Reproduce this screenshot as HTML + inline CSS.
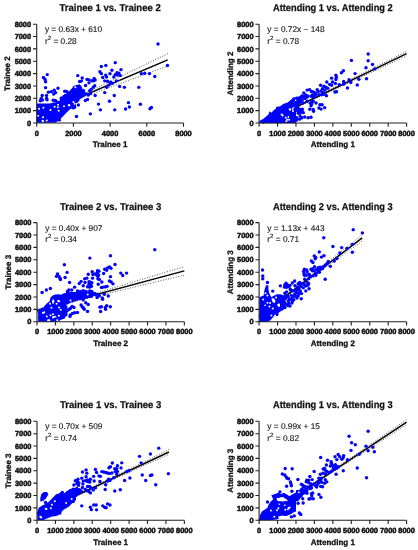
<!DOCTYPE html>
<html><head><meta charset="utf-8"><style>
html,body{margin:0;padding:0;background:#fff;}
svg{display:block;}
</style></head><body>
<svg width="418" height="550" viewBox="0 0 418 550" font-family='"Liberation Sans", Arial, sans-serif' fill="#111" text-rendering="geometricPrecision">
<rect width="418" height="550" fill="#fff"/>
<g><text x="110.1" y="11.3" font-size="10.0" font-weight="bold" stroke="#111" stroke-width="0.25" text-anchor="middle" textLength="101.4" lengthAdjust="spacingAndGlyphs">Trainee 1 vs. Trainee 2</text><text x="44.9" y="32.1" font-size="8.3" fill="#1a1a1a" stroke="#1a1a1a" stroke-width="0.15">y = 0.63x + 610</text><text x="44.9" y="43.8" font-size="8.3" fill="#1a1a1a" stroke="#1a1a1a" stroke-width="0.15">r<tspan font-size="6.14" dy="-4.2">2</tspan><tspan dy="4.2"> = 0.28</tspan></text><polyline points="36.7,112.94 39.98,111.71 43.25,110.48 46.53,109.23 49.8,107.98 53.08,106.71 56.35,105.42 59.63,104.12 62.9,102.8 66.18,101.45 69.45,100.08 72.73,98.68 76,97.25 79.28,95.8 82.55,94.33 85.83,92.84 89.1,91.33 92.38,89.81 95.65,88.28 98.93,86.75 102.2,85.2 105.48,83.65 108.75,82.09 112.03,80.53 115.3,78.96 118.58,77.4 121.85,75.83 125.13,74.26 128.4,72.68 131.68,71.11 134.95,69.53 138.23,67.95 141.5,66.38 144.78,64.8 148.05,63.22 151.33,61.63 154.6,60.05 157.88,58.47 161.15,56.89 164.43,55.31 167.7,53.72" fill="none" stroke="#333" stroke-width="0.9" stroke-dasharray="0.9 1.7"/><polyline points="36.7,117.99 39.98,116.44 43.25,114.9 46.53,113.37 49.8,111.85 53.08,110.34 56.35,108.85 59.63,107.37 62.9,105.92 66.18,104.48 69.45,103.08 72.73,101.7 76,100.35 79.28,99.02 82.55,97.72 85.83,96.43 89.1,95.16 92.38,93.91 95.65,92.66 98.93,91.42 102.2,90.19 105.48,88.96 108.75,87.74 112.03,86.53 115.3,85.31 118.58,84.1 121.85,82.9 125.13,81.69 128.4,80.49 131.68,79.29 134.95,78.08 138.23,76.88 141.5,75.69 144.78,74.49 148.05,73.29 151.33,72.09 154.6,70.9 157.88,69.7 161.15,68.51 164.43,67.32 167.7,66.12" fill="none" stroke="#333" stroke-width="0.9" stroke-dasharray="0.9 1.7"/><line x1="36.7" y1="115.47" x2="167.7" y2="59.92" stroke="#000" stroke-width="1.5"/><polygon points="36.96,106.01 41.74,104.57 47.48,105.05 52.27,102.66 58.01,101.7 61.84,99.79 64.71,98.35 67.58,95.48 71.41,92.13 76,88.78 76,106.49 72.36,107.92 69.49,109.84 66.62,112.42 63.75,115.58 60.88,118.45 58.01,121.32 55.14,122.85 36.96,122.85" fill="#0000ff"/><polygon points="66,93.64 68.87,91.49 71.74,88.61 73.9,85.74 76.77,85.03 79.64,84.31 81.08,85.74 82.51,88.61 82.51,90.77 84.66,92.2 86.82,92.2 87.54,94.36 84.66,96.51 81.79,97.95 79.64,99.38 78.92,101.54 76.77,102.97 74.61,103.69 73.18,105.84 70.31,107.28 67.44,108.72 66,109.43" fill="#0000ff"/><polygon points="36.72,103.55 59.69,103.55 59.69,97.23 66.01,97.23 66.01,107.28 57.54,110.01 36.72,110.01" fill="#0000ff"/><g fill="#fff"><circle cx="74.69" cy="103.8" r="1.0"/><circle cx="38.16" cy="115.66" r="1.0"/><circle cx="50.47" cy="110.02" r="1.0"/><circle cx="58.08" cy="104.66" r="1.0"/><circle cx="58.68" cy="110.75" r="1.0"/><circle cx="46.68" cy="120.59" r="1.0"/><circle cx="54.66" cy="106.85" r="1.0"/><circle cx="39.07" cy="108.8" r="1.0"/><circle cx="43.36" cy="107.77" r="1.0"/><circle cx="42.59" cy="120.72" r="1.0"/><circle cx="42.99" cy="121.31" r="1.0"/><circle cx="42.99" cy="117.19" r="1.0"/><circle cx="68.83" cy="105" r="1.0"/><circle cx="75.39" cy="87.31" r="1.0"/><circle cx="73.44" cy="101.96" r="1.0"/><circle cx="69.33" cy="105.42" r="1.0"/><circle cx="57.81" cy="107.37" r="1.0"/><circle cx="64.04" cy="106.17" r="1.0"/></g><g fill="#0000ff"><circle cx="45.57" cy="87.64" r="1.7"/><circle cx="58.01" cy="88.31" r="1.7"/><circle cx="54.18" cy="90.22" r="1.7"/><circle cx="48.44" cy="92.13" r="1.7"/><circle cx="51.31" cy="91.66" r="1.7"/><circle cx="55.62" cy="92.61" r="1.7"/><circle cx="53.7" cy="94.05" r="1.7"/><circle cx="42.22" cy="95.48" r="1.7"/><circle cx="41.26" cy="98.35" r="1.7"/><circle cx="40.31" cy="100.75" r="1.7"/><circle cx="46.53" cy="95.48" r="1.7"/><circle cx="46.53" cy="98.35" r="1.7"/><circle cx="47" cy="99.79" r="1.7"/><circle cx="53.22" cy="100.27" r="1.7"/><circle cx="59.44" cy="119.89" r="1.7"/><circle cx="73.32" cy="107.92" r="1.7"/><circle cx="64.71" cy="91.18" r="1.7"/><circle cx="85.57" cy="85.44" r="1.7"/><circle cx="104.71" cy="92.61" r="1.7"/><circle cx="106.62" cy="87.35" r="1.7"/><circle cx="109.01" cy="84.96" r="1.7"/><circle cx="114.28" cy="95.48" r="1.7"/><circle cx="95.14" cy="95.48" r="1.7"/><circle cx="109.49" cy="101.22" r="1.7"/><circle cx="98.49" cy="104.1" r="1.7"/><circle cx="100.4" cy="109.84" r="1.7"/><circle cx="90.35" cy="113.86" r="1.7"/><circle cx="76.48" cy="116.54" r="1.7"/><circle cx="114.76" cy="109.84" r="1.7"/><circle cx="78.39" cy="105.05" r="1.7"/><circle cx="79.64" cy="81.44" r="1.7"/><circle cx="81.43" cy="81.08" r="1.7"/><circle cx="88.97" cy="82.87" r="1.7"/><circle cx="91.84" cy="80.72" r="1.7"/><circle cx="66.72" cy="91.49" r="1.7"/><circle cx="83.59" cy="90.77" r="1.7"/><circle cx="91.13" cy="89.33" r="1.7"/><circle cx="93.28" cy="87.18" r="1.7"/><circle cx="94.72" cy="85.74" r="1.7"/><circle cx="89.69" cy="90.77" r="1.7"/><circle cx="90.41" cy="93.64" r="1.7"/><circle cx="88.25" cy="95.08" r="1.7"/><circle cx="85.38" cy="100.46" r="1.7"/><circle cx="87.54" cy="99.38" r="1.7"/><circle cx="74.61" cy="107.28" r="1.7"/><circle cx="119.64" cy="86.39" r="1.7"/><circle cx="124.42" cy="87.35" r="1.7"/><circle cx="138.78" cy="87.35" r="1.7"/><circle cx="128.44" cy="102.66" r="1.7"/><circle cx="129.4" cy="106.97" r="1.7"/><circle cx="125.57" cy="109.07" r="1.7"/><circle cx="140.4" cy="104.29" r="1.7"/><circle cx="149.97" cy="108.69" r="1.7"/><circle cx="151.41" cy="107.44" r="1.7"/><circle cx="158" cy="44" r="1.7"/><circle cx="167.45" cy="65.53" r="1.7"/><circle cx="47.29" cy="74.62" r="1.7"/><circle cx="43.46" cy="77.49" r="1.7"/><circle cx="45.09" cy="79.41" r="1.7"/><circle cx="45.57" cy="81.8" r="1.7"/><circle cx="77.72" cy="75.58" r="1.7"/><circle cx="82.22" cy="77.97" r="1.7"/><circle cx="87" cy="79.41" r="1.7"/><circle cx="88.92" cy="79.89" r="1.7"/><circle cx="94.18" cy="78.45" r="1.7"/><circle cx="95.14" cy="79.89" r="1.7"/><circle cx="93.7" cy="80.84" r="1.7"/><circle cx="101.36" cy="66.49" r="1.7"/><circle cx="105.86" cy="65.53" r="1.7"/><circle cx="99.92" cy="71.75" r="1.7"/><circle cx="101.36" cy="73.67" r="1.7"/><circle cx="111.89" cy="70.32" r="1.7"/><circle cx="109.97" cy="73.67" r="1.7"/><circle cx="105.67" cy="75.1" r="1.7"/><circle cx="106.62" cy="77.01" r="1.7"/><circle cx="102.79" cy="77.49" r="1.7"/><circle cx="104.71" cy="80.84" r="1.7"/><circle cx="107.58" cy="81.32" r="1.7"/><circle cx="110.45" cy="82.28" r="1.7"/><circle cx="115.23" cy="62.66" r="1.7"/><circle cx="115.23" cy="74.62" r="1.7"/><circle cx="113.8" cy="77.01" r="1.7"/><circle cx="112.36" cy="83.23" r="1.7"/><circle cx="42.46" cy="100.1" r="1.7"/><circle cx="61.48" cy="97.95" r="1.7"/><circle cx="64" cy="96.51" r="1.7"/><circle cx="65.43" cy="95.43" r="1.7"/><circle cx="55.38" cy="100.46" r="1.7"/><circle cx="57.54" cy="102.25" r="1.7"/><circle cx="120.98" cy="69.65" r="1.7"/><circle cx="116.96" cy="72.71" r="1.7"/><circle cx="118.87" cy="73.19" r="1.7"/><circle cx="117.44" cy="75.1" r="1.7"/><circle cx="120.31" cy="75.58" r="1.7"/><circle cx="116.48" cy="80.84" r="1.7"/><circle cx="141.36" cy="73.67" r="1.7"/><circle cx="144.71" cy="73.19" r="1.7"/><circle cx="149.49" cy="73.67" r="1.7"/><circle cx="154.76" cy="76.54" r="1.7"/></g><path d="M36.7 24.2V123H183.5M33 123H36.7M33 110.65H36.7M33 98.3H36.7M33 85.95H36.7M33 73.6H36.7M33 61.25H36.7M33 48.9H36.7M33 36.55H36.7M33 24.2H36.7M36.7 123V126.7M73.4 123V126.7M110.1 123V126.7M146.8 123V126.7M183.5 123V126.7" fill="none" stroke="#222" stroke-width="1.1"/><g font-size="7.4" font-weight="bold" fill="#111" stroke="#111" stroke-width="0.5"><text x="31.1" y="125.66" text-anchor="end">0</text><text x="31.1" y="113.31" text-anchor="end">1000</text><text x="31.1" y="100.96" text-anchor="end">2000</text><text x="31.1" y="88.61" text-anchor="end">3000</text><text x="31.1" y="76.26" text-anchor="end">4000</text><text x="31.1" y="63.91" text-anchor="end">5000</text><text x="31.1" y="51.56" text-anchor="end">6000</text><text x="31.1" y="39.21" text-anchor="end">7000</text><text x="31.1" y="26.86" text-anchor="end">8000</text><text x="36.7" y="135.6" text-anchor="middle">0</text><text x="73.4" y="135.6" text-anchor="middle">2000</text><text x="110.1" y="135.6" text-anchor="middle">4000</text><text x="146.8" y="135.6" text-anchor="middle">6000</text><text x="183.5" y="135.6" text-anchor="middle">8000</text></g><text x="110.1" y="147.4" font-size="8.0" font-weight="bold" stroke="#111" stroke-width="0.3" text-anchor="middle">Trainee 1</text><text transform="translate(10.3 73.6) rotate(-90)" x="0" y="0" font-size="8.0" font-weight="bold" stroke="#111" stroke-width="0.3" text-anchor="middle">Trainee 2</text></g><g><text x="332.85" y="11.3" font-size="10.0" font-weight="bold" stroke="#111" stroke-width="0.25" text-anchor="middle" textLength="119.8" lengthAdjust="spacingAndGlyphs">Attending 1 vs. Attending 2</text><text x="267.3" y="32.1" font-size="8.3" fill="#1a1a1a" stroke="#1a1a1a" stroke-width="0.15">y = 0.72x − 148</text><text x="267.3" y="43.8" font-size="8.3" fill="#1a1a1a" stroke="#1a1a1a" stroke-width="0.15">r<tspan font-size="6.14" dy="-4.2">2</tspan><tspan dy="4.2"> = 0.78</tspan></text><polyline points="262.88,122.14 266.47,120.43 270.07,118.71 273.66,116.99 277.25,115.27 280.84,113.54 284.44,111.81 288.03,110.07 291.62,108.33 295.22,106.58 298.81,104.84 302.4,103.08 306,101.33 309.59,99.57 313.18,97.8 316.77,96.04 320.37,94.27 323.96,92.5 327.55,90.73 331.15,88.95 334.74,87.18 338.33,85.4 341.93,83.62 345.52,81.84 349.11,80.06 352.7,78.28 356.3,76.5 359.89,74.71 363.48,72.93 367.08,71.15 370.67,69.36 374.26,67.58 377.86,65.79 381.45,64 385.04,62.22 388.63,60.43 392.23,58.64 395.82,56.86 399.41,55.07 403.01,53.28 406.6,51.49" fill="none" stroke="#333" stroke-width="0.9" stroke-dasharray="0.9 1.7"/><polyline points="262.88,123.87 266.47,122.12 270.07,120.37 273.66,118.62 277.25,116.88 280.84,115.14 284.44,113.41 288.03,111.68 291.62,109.95 295.22,108.23 298.81,106.52 302.4,104.81 306,103.1 309.59,101.39 313.18,99.69 316.77,97.99 320.37,96.29 323.96,94.6 327.55,92.9 331.15,91.21 334.74,89.52 338.33,87.83 341.93,86.15 345.52,84.46 349.11,82.77 352.7,81.09 356.3,79.41 359.89,77.72 363.48,76.04 367.08,74.36 370.67,72.68 374.26,71 377.86,69.32 381.45,67.64 385.04,65.96 388.63,64.28 392.23,62.6 395.82,60.92 399.41,59.25 403.01,57.57 406.6,55.89" fill="none" stroke="#333" stroke-width="0.9" stroke-dasharray="0.9 1.7"/><line x1="262.88" y1="123" x2="406.6" y2="53.69" stroke="#000" stroke-width="1.5"/><polygon points="259.35,121.8 260.78,119.89 263.18,118.93 265.57,117.01 268.44,114.62 269.4,111.27 271.31,112.71 274.18,109.84 277.05,107.92 280.88,106.49 283.75,104.57 286.62,103.62 289.01,102.66 290.45,100.27 292.84,98.83 296,97.88 296,123.23 259.35,123.23" fill="#0000ff"/><polygon points="276,106.92 280.31,106.2 283.18,104.05 287.49,102.61 290.36,100.46 293.23,98.31 297.54,96.87 301.84,95.44 306.01,94 306.01,98.31 303.28,101.18 299.69,104.05 297.54,108.36 296.82,111.23 294.66,111.95 292.51,113.38 290.36,115.54 290.36,118.41 294.66,117.69 296.82,116.25 298.97,119.13 297.54,121.28 294.66,122.93 276,122.93" fill="#0000ff"/><g fill="#fff"><circle cx="292.65" cy="108.65" r="1.0"/><circle cx="290.2" cy="109.79" r="1.0"/><circle cx="285.76" cy="117.77" r="1.0"/><circle cx="289.71" cy="109.13" r="1.0"/><circle cx="281.67" cy="114.55" r="1.0"/><circle cx="287.27" cy="119.67" r="1.0"/><circle cx="288.46" cy="117.1" r="1.0"/><circle cx="282.71" cy="115.48" r="1.0"/><circle cx="293.42" cy="101.75" r="1.0"/><circle cx="293.01" cy="111.07" r="1.0"/><circle cx="293.74" cy="117.59" r="1.0"/><circle cx="295.58" cy="100.04" r="1.0"/><circle cx="294.33" cy="107.38" r="1.0"/><circle cx="289.14" cy="119.75" r="1.0"/><circle cx="302.24" cy="99.42" r="1.0"/><circle cx="286.33" cy="121.3" r="1.0"/><circle cx="291.11" cy="101.84" r="1.0"/></g><g fill="#0000ff"><circle cx="299.69" cy="111.23" r="1.7"/><circle cx="301.84" cy="110.51" r="1.7"/><circle cx="303.28" cy="112.66" r="1.7"/><circle cx="300.41" cy="113.02" r="1.7"/><circle cx="304.72" cy="116.97" r="1.7"/><circle cx="301.84" cy="117.69" r="1.7"/><circle cx="299.69" cy="119.13" r="1.7"/><circle cx="297.76" cy="107.48" r="1.7"/><circle cx="299.48" cy="109.2" r="1.7"/><circle cx="297.76" cy="110.93" r="1.7"/><circle cx="298.33" cy="113.22" r="1.7"/><circle cx="302.35" cy="109.2" r="1.7"/><circle cx="300.06" cy="116.09" r="1.7"/><circle cx="296.61" cy="117.81" r="1.7"/><circle cx="293.74" cy="117.24" r="1.7"/><circle cx="290.87" cy="116.67" r="1.7"/><circle cx="308.09" cy="117.81" r="1.7"/><circle cx="310.96" cy="117.24" r="1.7"/><circle cx="309.81" cy="109.2" r="1.7"/><circle cx="295.46" cy="108.63" r="1.7"/><circle cx="296.04" cy="106.33" r="1.7"/><circle cx="297.18" cy="104.04" r="1.7"/><circle cx="301.2" cy="99.44" r="1.7"/><circle cx="305.22" cy="98.3" r="1.7"/><circle cx="306.94" cy="97.15" r="1.7"/><circle cx="296.61" cy="98.3" r="1.7"/><circle cx="293.74" cy="98.87" r="1.7"/><circle cx="291.44" cy="101.74" r="1.7"/><circle cx="293.17" cy="101.17" r="1.7"/><circle cx="299.48" cy="102.31" r="1.7"/><circle cx="302.93" cy="102.89" r="1.7"/><circle cx="307.08" cy="101.18" r="1.7"/><circle cx="311.03" cy="96.15" r="1.7"/><circle cx="312.46" cy="96.87" r="1.7"/><circle cx="313.9" cy="95.44" r="1.7"/><circle cx="316.05" cy="94.36" r="1.7"/><circle cx="318.92" cy="94.72" r="1.7"/><circle cx="321.43" cy="94.72" r="1.7"/><circle cx="323.95" cy="94.36" r="1.7"/><circle cx="326.46" cy="95.79" r="1.7"/><circle cx="311.74" cy="101.9" r="1.7"/><circle cx="313.18" cy="101.18" r="1.7"/><circle cx="310.31" cy="103.33" r="1.7"/><circle cx="311.74" cy="104.05" r="1.7"/><circle cx="311.03" cy="105.84" r="1.7"/><circle cx="316.05" cy="102.97" r="1.7"/><circle cx="320" cy="104.77" r="1.7"/><circle cx="322.15" cy="104.77" r="1.7"/><circle cx="318.92" cy="108" r="1.7"/><circle cx="321.08" cy="109.08" r="1.7"/><circle cx="324.66" cy="107.64" r="1.7"/><circle cx="313.18" cy="109.43" r="1.7"/><circle cx="313.54" cy="111.23" r="1.7"/><circle cx="335.89" cy="75.26" r="1.7"/><circle cx="336.36" cy="77.18" r="1.7"/><circle cx="331.58" cy="78.13" r="1.7"/><circle cx="335.89" cy="79.57" r="1.7"/><circle cx="326.79" cy="81.96" r="1.7"/><circle cx="332.54" cy="81.96" r="1.7"/><circle cx="335.41" cy="83.4" r="1.7"/><circle cx="329.67" cy="84.35" r="1.7"/><circle cx="331.58" cy="85.31" r="1.7"/><circle cx="320.57" cy="85.31" r="1.7"/><circle cx="323.92" cy="86.27" r="1.7"/><circle cx="325.84" cy="87.22" r="1.7"/><circle cx="327.75" cy="88.18" r="1.7"/><circle cx="322.49" cy="88.66" r="1.7"/><circle cx="324.88" cy="90.1" r="1.7"/><circle cx="317.22" cy="89.62" r="1.7"/><circle cx="318.18" cy="91.53" r="1.7"/><circle cx="321.05" cy="91.05" r="1.7"/><circle cx="322.97" cy="92.49" r="1.7"/><circle cx="307.18" cy="90.1" r="1.7"/><circle cx="309.57" cy="89.62" r="1.7"/><circle cx="311.48" cy="91.53" r="1.7"/><circle cx="313.4" cy="92.01" r="1.7"/><circle cx="315.31" cy="92.97" r="1.7"/><circle cx="312.44" cy="94.88" r="1.7"/><circle cx="303.83" cy="92.97" r="1.7"/><circle cx="301.91" cy="95.84" r="1.7"/><circle cx="305.74" cy="94.88" r="1.7"/><circle cx="307.66" cy="95.84" r="1.7"/><circle cx="334.93" cy="92.01" r="1.7"/><circle cx="314.35" cy="96.79" r="1.7"/><circle cx="336.54" cy="91.79" r="1.7"/><circle cx="339.27" cy="84.71" r="1.7"/><circle cx="341.45" cy="72.72" r="1.7"/><circle cx="343.41" cy="70.76" r="1.7"/><circle cx="343.63" cy="81.44" r="1.7"/><circle cx="343.63" cy="84.16" r="1.7"/><circle cx="347.44" cy="87.98" r="1.7"/><circle cx="349.08" cy="79.8" r="1.7"/><circle cx="350.71" cy="82.53" r="1.7"/><circle cx="355.07" cy="73.59" r="1.7"/><circle cx="358.89" cy="79.26" r="1.7"/><circle cx="357.25" cy="84.93" r="1.7"/><circle cx="365.97" cy="67.81" r="1.7"/><circle cx="366.52" cy="78.71" r="1.7"/><circle cx="372.51" cy="64.54" r="1.7"/><circle cx="374.69" cy="68.9" r="1.7"/><circle cx="351.41" cy="60.42" r="1.7"/><circle cx="368.16" cy="54.05" r="1.7"/><circle cx="368.16" cy="60.75" r="1.7"/></g><path d="M259.1 24.2V123H406.6M255.4 123H259.1M255.4 110.65H259.1M255.4 98.3H259.1M255.4 85.95H259.1M255.4 73.6H259.1M255.4 61.25H259.1M255.4 48.9H259.1M255.4 36.55H259.1M255.4 24.2H259.1M259.1 123V126.7M277.54 123V126.7M295.98 123V126.7M314.41 123V126.7M332.85 123V126.7M351.29 123V126.7M369.73 123V126.7M388.16 123V126.7M406.6 123V126.7" fill="none" stroke="#222" stroke-width="1.1"/><g font-size="7.4" font-weight="bold" fill="#111" stroke="#111" stroke-width="0.5"><text x="253.5" y="125.66" text-anchor="end">0</text><text x="253.5" y="113.31" text-anchor="end">1000</text><text x="253.5" y="100.96" text-anchor="end">2000</text><text x="253.5" y="88.61" text-anchor="end">3000</text><text x="253.5" y="76.26" text-anchor="end">4000</text><text x="253.5" y="63.91" text-anchor="end">5000</text><text x="253.5" y="51.56" text-anchor="end">6000</text><text x="253.5" y="39.21" text-anchor="end">7000</text><text x="253.5" y="26.86" text-anchor="end">8000</text><text x="259.1" y="135.6" text-anchor="middle">0</text><text x="277.54" y="135.6" text-anchor="middle">1000</text><text x="295.98" y="135.6" text-anchor="middle">2000</text><text x="314.41" y="135.6" text-anchor="middle">3000</text><text x="332.85" y="135.6" text-anchor="middle">4000</text><text x="351.29" y="135.6" text-anchor="middle">5000</text><text x="369.73" y="135.6" text-anchor="middle">6000</text><text x="388.16" y="135.6" text-anchor="middle">7000</text><text x="406.6" y="135.6" text-anchor="middle">8000</text></g><text x="332.85" y="147.4" font-size="8.0" font-weight="bold" stroke="#111" stroke-width="0.3" text-anchor="middle">Attending 1</text><text transform="translate(232.7 73.6) rotate(-90)" x="0" y="0" font-size="8.0" font-weight="bold" stroke="#111" stroke-width="0.3" text-anchor="middle">Attending 2</text></g><g><text x="110.67" y="209.8" font-size="10.0" font-weight="bold" stroke="#111" stroke-width="0.25" text-anchor="middle" textLength="101.4" lengthAdjust="spacingAndGlyphs">Trainee 2 vs. Trainee 3</text><text x="45.2" y="230.6" font-size="8.3" fill="#1a1a1a" stroke="#1a1a1a" stroke-width="0.15">y = 0.40x + 907</text><text x="45.2" y="242.3" font-size="8.3" fill="#1a1a1a" stroke="#1a1a1a" stroke-width="0.15">r<tspan font-size="6.14" dy="-4.2">2</tspan><tspan dy="4.2"> = 0.34</tspan></text><polyline points="37,309.02 40.68,308.1 44.37,307.18 48.05,306.25 51.73,305.31 55.42,304.35 59.1,303.39 62.79,302.41 66.47,301.42 70.15,300.41 73.84,299.39 77.52,298.36 81.2,297.32 84.89,296.27 88.57,295.21 92.26,294.14 95.94,293.07 99.62,291.99 103.31,290.9 106.99,289.81 110.67,288.72 114.36,287.63 118.04,286.53 121.73,285.43 125.41,284.33 129.09,283.23 132.78,282.12 136.46,281.02 140.14,279.91 143.83,278.8 147.51,277.69 151.2,276.58 154.88,275.47 158.56,274.36 162.25,273.25 165.93,272.14 169.61,271.03 173.3,269.91 176.98,268.8 180.67,267.69 184.35,266.57" fill="none" stroke="#333" stroke-width="0.9" stroke-dasharray="0.9 1.7"/><polyline points="37,312.09 40.68,311.02 44.37,309.96 48.05,308.91 51.73,307.86 55.42,306.83 59.1,305.82 62.79,304.81 66.47,303.82 70.15,302.84 73.84,301.87 77.52,300.92 81.2,299.98 84.89,299.05 88.57,298.12 92.26,297.21 95.94,296.3 99.62,295.39 103.31,294.49 106.99,293.6 110.67,292.7 114.36,291.81 118.04,290.93 121.73,290.04 125.41,289.16 129.09,288.28 132.78,287.4 136.46,286.52 140.14,285.64 143.83,284.77 147.51,283.89 151.2,283.02 154.88,282.15 158.56,281.27 162.25,280.4 165.93,279.53 169.61,278.66 173.3,277.78 176.98,276.91 180.67,276.04 184.35,275.17" fill="none" stroke="#333" stroke-width="0.9" stroke-dasharray="0.9 1.7"/><line x1="37" y1="310.55" x2="184.35" y2="270.87" stroke="#000" stroke-width="1.5"/><polygon points="38.15,321.86 38.15,309.95 40.31,308.87 43.18,307.79 44.61,305.64 46.77,303.49 49.64,301.33 50.36,297.74 52.51,295.59 55.38,294.51 58.25,294.15 61.13,294.87 63.28,293.44 66.01,292.72 66.01,315.69 64.72,318.56 61.13,319.64 57.54,321.86" fill="#0000ff"/><polygon points="66,292 96.01,292 96.01,294.87 91.84,297.03 87.54,298.46 83.95,299.18 80.36,299.9 76.77,300.61 73.18,302.05 70.31,302.77 68.15,304.2 66,304.92" fill="#0000ff"/><polygon points="66,304.92 67.44,306.36 67.44,315.69 66,316.41" fill="#0000ff"/><g fill="#fff"><circle cx="53.01" cy="314.29" r="1.0"/><circle cx="51.44" cy="307.76" r="1.0"/><circle cx="53.06" cy="317.55" r="1.0"/><circle cx="60.72" cy="309.75" r="1.0"/><circle cx="50.52" cy="315.23" r="1.0"/><circle cx="42.94" cy="313.04" r="1.0"/><circle cx="58.82" cy="315.67" r="1.0"/><circle cx="44.17" cy="312.37" r="1.0"/><circle cx="59.04" cy="307.47" r="1.0"/><circle cx="58.48" cy="300.99" r="1.0"/><circle cx="56.59" cy="303.72" r="1.0"/><circle cx="46.81" cy="316.58" r="1.0"/><circle cx="57.23" cy="320.26" r="1.0"/><circle cx="50.09" cy="303.63" r="1.0"/><circle cx="87.68" cy="294.47" r="1.0"/><circle cx="70.54" cy="300.57" r="1.0"/></g><polygon points="52.15,299.9 53.59,299.18 54.31,301.33 53.59,303.84 52.37,303.49" fill="#fff"/><polygon points="56.82,300.61 58.97,299.9 60.41,301.33 58.61,302.41" fill="#fff"/><polygon points="46.77,319.64 49.64,318.92 50.36,321.07 47.49,321.43" fill="#fff"/><polygon points="52.15,316.41 55.38,315.69 56.82,317.13 53.23,317.84" fill="#fff"/><g fill="#0000ff"><circle cx="42.1" cy="292.57" r="1.7"/><circle cx="83.23" cy="299.9" r="1.7"/><circle cx="85.74" cy="302.77" r="1.7"/><circle cx="88.25" cy="304.56" r="1.7"/><circle cx="81.08" cy="304.92" r="1.7"/><circle cx="82.15" cy="306.72" r="1.7"/><circle cx="83.23" cy="307.79" r="1.7"/><circle cx="84.31" cy="309.23" r="1.7"/><circle cx="87.54" cy="311.38" r="1.7"/><circle cx="72.1" cy="306.36" r="1.7"/><circle cx="73.9" cy="307.43" r="1.7"/><circle cx="70.31" cy="308.51" r="1.7"/><circle cx="68.87" cy="309.59" r="1.7"/><circle cx="67.08" cy="310.66" r="1.7"/><circle cx="70.31" cy="314.97" r="1.7"/><circle cx="72.46" cy="313.54" r="1.7"/><circle cx="74.61" cy="312.82" r="1.7"/><circle cx="77.49" cy="312.46" r="1.7"/><circle cx="69.95" cy="316.41" r="1.7"/><circle cx="64.36" cy="264.73" r="1.7"/><circle cx="57.54" cy="273.84" r="1.7"/><circle cx="56.46" cy="276.36" r="1.7"/><circle cx="58.97" cy="276.36" r="1.7"/><circle cx="60.05" cy="278.15" r="1.7"/><circle cx="60.41" cy="279.59" r="1.7"/><circle cx="65.07" cy="277.43" r="1.7"/><circle cx="50.36" cy="288.56" r="1.7"/><circle cx="46.41" cy="290" r="1.7"/><circle cx="67.08" cy="272.41" r="1.7"/><circle cx="69.59" cy="282.46" r="1.7"/><circle cx="74.61" cy="287.13" r="1.7"/><circle cx="92.2" cy="271.69" r="1.7"/><circle cx="92.92" cy="274.56" r="1.7"/><circle cx="94.72" cy="273.84" r="1.7"/><circle cx="88.25" cy="274.2" r="1.7"/><circle cx="92.56" cy="278.15" r="1.7"/><circle cx="84.66" cy="278.87" r="1.7"/><circle cx="86.82" cy="278.15" r="1.7"/><circle cx="81.08" cy="281.38" r="1.7"/><circle cx="79.28" cy="283.54" r="1.7"/><circle cx="85.02" cy="282.46" r="1.7"/><circle cx="83.23" cy="285.69" r="1.7"/><circle cx="88.97" cy="281.74" r="1.7"/><circle cx="90.41" cy="282.1" r="1.7"/><circle cx="91.84" cy="282.82" r="1.7"/><circle cx="88.97" cy="284.25" r="1.7"/><circle cx="90.77" cy="284.97" r="1.7"/><circle cx="87.54" cy="286.77" r="1.7"/><circle cx="89.69" cy="287.13" r="1.7"/><circle cx="68.87" cy="290" r="1.7"/><circle cx="71.74" cy="290" r="1.7"/><circle cx="67.44" cy="291.43" r="1.7"/><circle cx="77.49" cy="291.07" r="1.7"/><circle cx="80.36" cy="291.43" r="1.7"/><circle cx="83.23" cy="290.72" r="1.7"/><circle cx="86.1" cy="291.43" r="1.7"/><circle cx="89.69" cy="291.07" r="1.7"/><circle cx="91.84" cy="291.43" r="1.7"/><circle cx="97.18" cy="272.72" r="1.7"/><circle cx="98.61" cy="274.87" r="1.7"/><circle cx="103.64" cy="273.44" r="1.7"/><circle cx="97.9" cy="276.31" r="1.7"/><circle cx="97.9" cy="278.82" r="1.7"/><circle cx="99.33" cy="279.54" r="1.7"/><circle cx="110.46" cy="276.67" r="1.7"/><circle cx="109.38" cy="280.97" r="1.7"/><circle cx="111.18" cy="282.05" r="1.7"/><circle cx="112.97" cy="283.84" r="1.7"/><circle cx="101.84" cy="282.05" r="1.7"/><circle cx="91.44" cy="286.36" r="1.7"/><circle cx="98.26" cy="284.2" r="1.7"/><circle cx="101.49" cy="287.43" r="1.7"/><circle cx="103.64" cy="287.08" r="1.7"/><circle cx="105.79" cy="286.72" r="1.7"/><circle cx="107.23" cy="286.36" r="1.7"/><circle cx="91.44" cy="293.54" r="1.7"/><circle cx="92.87" cy="293.9" r="1.7"/><circle cx="95.74" cy="294.25" r="1.7"/><circle cx="97.9" cy="294.97" r="1.7"/><circle cx="99.33" cy="295.69" r="1.7"/><circle cx="104.36" cy="294.25" r="1.7"/><circle cx="97.18" cy="297.48" r="1.7"/><circle cx="102.2" cy="297.84" r="1.7"/><circle cx="102.56" cy="299.28" r="1.7"/><circle cx="108.31" cy="296.05" r="1.7"/><circle cx="91.08" cy="296.41" r="1.7"/><circle cx="99.9" cy="307.13" r="1.7"/><circle cx="101.33" cy="306.77" r="1.7"/><circle cx="100.61" cy="311.43" r="1.7"/><circle cx="105.28" cy="307.49" r="1.7"/><circle cx="106.72" cy="305.69" r="1.7"/><circle cx="105.64" cy="309.28" r="1.7"/><circle cx="110.31" cy="306.77" r="1.7"/><circle cx="89.88" cy="258.08" r="1.7"/><circle cx="110.45" cy="255.68" r="1.7"/><circle cx="115.04" cy="264.49" r="1.7"/><circle cx="104.71" cy="269.27" r="1.7"/><circle cx="107.58" cy="267.84" r="1.7"/><circle cx="109.49" cy="266.88" r="1.7"/><circle cx="110.93" cy="268.32" r="1.7"/><circle cx="106.62" cy="270.23" r="1.7"/><circle cx="97.53" cy="270.71" r="1.7"/><circle cx="98.97" cy="271.19" r="1.7"/><circle cx="96.57" cy="275.01" r="1.7"/><circle cx="154.76" cy="249.66" r="1.7"/><circle cx="120.78" cy="273.1" r="1.7"/><circle cx="122.7" cy="275.49" r="1.7"/><circle cx="126.53" cy="273.1" r="1.7"/></g><path d="M37 222.6V321.8H184.35M33.3 321.8H37M33.3 309.4H37M33.3 297H37M33.3 284.6H37M33.3 272.2H37M33.3 259.8H37M33.3 247.4H37M33.3 235H37M33.3 222.6H37M37 321.8V325.5M55.42 321.8V325.5M73.84 321.8V325.5M92.26 321.8V325.5M110.67 321.8V325.5M129.09 321.8V325.5M147.51 321.8V325.5M165.93 321.8V325.5M184.35 321.8V325.5" fill="none" stroke="#222" stroke-width="1.1"/><g font-size="7.4" font-weight="bold" fill="#111" stroke="#111" stroke-width="0.5"><text x="31.4" y="324.46" text-anchor="end">0</text><text x="31.4" y="312.06" text-anchor="end">1000</text><text x="31.4" y="299.66" text-anchor="end">2000</text><text x="31.4" y="287.26" text-anchor="end">3000</text><text x="31.4" y="274.86" text-anchor="end">4000</text><text x="31.4" y="262.46" text-anchor="end">5000</text><text x="31.4" y="250.06" text-anchor="end">6000</text><text x="31.4" y="237.66" text-anchor="end">7000</text><text x="31.4" y="225.26" text-anchor="end">8000</text><text x="37" y="334.4" text-anchor="middle">0</text><text x="55.42" y="334.4" text-anchor="middle">1000</text><text x="73.84" y="334.4" text-anchor="middle">2000</text><text x="92.26" y="334.4" text-anchor="middle">3000</text><text x="110.67" y="334.4" text-anchor="middle">4000</text><text x="129.09" y="334.4" text-anchor="middle">5000</text><text x="147.51" y="334.4" text-anchor="middle">6000</text><text x="165.93" y="334.4" text-anchor="middle">7000</text><text x="184.35" y="334.4" text-anchor="middle">8000</text></g><text x="110.67" y="346.2" font-size="8.0" font-weight="bold" stroke="#111" stroke-width="0.3" text-anchor="middle">Trainee 2</text><text transform="translate(10.6 272.2) rotate(-90)" x="0" y="0" font-size="8.0" font-weight="bold" stroke="#111" stroke-width="0.3" text-anchor="middle">Trainee 3</text></g><g><text x="332.85" y="209.8" font-size="10.0" font-weight="bold" stroke="#111" stroke-width="0.25" text-anchor="middle" textLength="119.8" lengthAdjust="spacingAndGlyphs">Attending 2 vs. Attending 3</text><text x="267.3" y="230.6" font-size="8.3" fill="#1a1a1a" stroke="#1a1a1a" stroke-width="0.15">y = 1.13x + 443</text><text x="267.3" y="242.3" font-size="8.3" fill="#1a1a1a" stroke="#1a1a1a" stroke-width="0.15">r<tspan font-size="6.14" dy="-4.2">2</tspan><tspan dy="4.2"> = 0.71</tspan></text><polyline points="259.1,315.13 261.68,313.22 264.26,311.29 266.84,309.37 269.41,307.43 271.99,305.49 274.57,303.54 277.15,301.59 279.73,299.63 282.31,297.66 284.88,295.68 287.46,293.7 290.04,291.71 292.62,289.71 295.2,287.71 297.78,285.71 300.36,283.7 302.93,281.68 305.51,279.67 308.09,277.65 310.67,275.62 313.25,273.6 315.83,271.57 318.41,269.54 320.98,267.51 323.56,265.48 326.14,263.45 328.72,261.42 331.3,259.38 333.88,257.35 336.45,255.31 339.03,253.28 341.61,251.24 344.19,249.2 346.77,247.16 349.35,245.12 351.93,243.08 354.5,241.04 357.08,239 359.66,236.96 362.24,234.92" fill="none" stroke="#333" stroke-width="0.9" stroke-dasharray="0.9 1.7"/><polyline points="259.1,317.48 261.68,315.48 264.26,313.48 266.84,311.49 269.41,309.5 271.99,307.53 274.57,305.55 277.15,303.59 279.73,301.63 282.31,299.68 284.88,297.74 287.46,295.8 290.04,293.88 292.62,291.95 295.2,290.03 297.78,288.12 300.36,286.21 302.93,284.31 305.51,282.4 308.09,280.5 310.67,278.61 313.25,276.71 315.83,274.82 318.41,272.93 320.98,271.04 323.56,269.15 326.14,267.26 328.72,265.38 331.3,263.49 333.88,261.61 336.45,259.73 339.03,257.84 341.61,255.96 344.19,254.08 346.77,252.2 349.35,250.32 351.93,248.44 354.5,246.56 357.08,244.68 359.66,242.8 362.24,240.92" fill="none" stroke="#333" stroke-width="0.9" stroke-dasharray="0.9 1.7"/><line x1="259.1" y1="316.31" x2="362.24" y2="237.92" stroke="#000" stroke-width="1.5"/><polygon points="259.35,322 259.35,297.31 261.74,296.35 263.66,295.4 264.13,291.57 265.09,287.74 266.53,284.87 268.44,285.83 268.44,289.66 269.4,293.48 271.31,297.31 274.18,295.4 278.01,294.44 281.84,296.35 283.75,299.22 284.71,304.01 283.75,309.75 279.92,311.67 277.05,313.58 274.18,315.49 272.27,318.36 270.35,320.28 267.48,322" fill="#0000ff"/><polygon points="276,294.61 278.87,294.26 281.74,294.61 283.9,295.69 284.61,298.2 285.33,300.36 286.77,303.23 285.33,306.1 284.61,308.97 280.31,309.69 278.87,311.84 278.15,316.01 276,316.01" fill="#0000ff"/><g fill="#fff"><circle cx="263.12" cy="299.56" r="1.0"/><circle cx="265.44" cy="293.33" r="1.0"/><circle cx="278.96" cy="304.57" r="1.0"/><circle cx="278.08" cy="304.88" r="1.0"/><circle cx="267.41" cy="295.38" r="1.0"/><circle cx="267.45" cy="302.87" r="1.0"/><circle cx="269.44" cy="306.54" r="1.0"/><circle cx="279.01" cy="304.81" r="1.0"/><circle cx="272.84" cy="308.43" r="1.0"/><circle cx="270.1" cy="303.09" r="1.0"/><circle cx="271.35" cy="315.48" r="1.0"/><circle cx="276.1" cy="297.53" r="1.0"/><circle cx="279.05" cy="305.91" r="1.0"/></g><polygon points="271.43,298.82 273.59,298.1 275.38,300.61 275.02,302.77 273.23,302.77 272.15,300.97" fill="#fff"/><polygon points="264.26,304.92 265.33,304.2 266.05,305.64 264.61,306.36" fill="#fff"/><g fill="#0000ff"><circle cx="267.48" cy="282.48" r="1.7"/><circle cx="272.75" cy="291.09" r="1.7"/><circle cx="280.4" cy="285.83" r="1.7"/><circle cx="284.71" cy="284.87" r="1.7"/><circle cx="286.62" cy="287.26" r="1.7"/><circle cx="289.97" cy="285.35" r="1.7"/><circle cx="292.36" cy="282.96" r="1.7"/><circle cx="293.8" cy="299.7" r="1.7"/><circle cx="312.89" cy="262.54" r="1.7"/><circle cx="330.33" cy="266.36" r="1.7"/><circle cx="325.21" cy="279.22" r="1.7"/><circle cx="319.43" cy="272.35" r="1.7"/><circle cx="301.45" cy="293.61" r="1.7"/><circle cx="305.81" cy="290.88" r="1.7"/><circle cx="309.08" cy="288.7" r="1.7"/><circle cx="304.36" cy="269.18" r="1.7"/><circle cx="303.64" cy="271.33" r="1.7"/><circle cx="304" cy="273.49" r="1.7"/><circle cx="304.36" cy="275.28" r="1.7"/><circle cx="304.72" cy="279.23" r="1.7"/><circle cx="294.66" cy="281.02" r="1.7"/><circle cx="295.02" cy="285.69" r="1.7"/><circle cx="286.05" cy="283.18" r="1.7"/><circle cx="287.49" cy="284.97" r="1.7"/><circle cx="288.92" cy="286.77" r="1.7"/><circle cx="284.61" cy="287.13" r="1.7"/><circle cx="299.69" cy="282.46" r="1.7"/><circle cx="300.77" cy="284.25" r="1.7"/><circle cx="302.56" cy="283.54" r="1.7"/><circle cx="301.13" cy="286.41" r="1.7"/><circle cx="297.54" cy="287.13" r="1.7"/><circle cx="298.97" cy="288.56" r="1.7"/><circle cx="303.28" cy="287.84" r="1.7"/><circle cx="296.82" cy="289.28" r="1.7"/><circle cx="290.36" cy="289.28" r="1.7"/><circle cx="292.51" cy="290.72" r="1.7"/><circle cx="332.92" cy="246.45" r="1.7"/><circle cx="319.28" cy="252.05" r="1.7"/><circle cx="314.26" cy="256" r="1.7"/><circle cx="315.69" cy="257.43" r="1.7"/><circle cx="321.43" cy="257.08" r="1.7"/><circle cx="323.95" cy="255.64" r="1.7"/><circle cx="311.38" cy="261.02" r="1.7"/><circle cx="328.25" cy="261.38" r="1.7"/><circle cx="327.18" cy="263.54" r="1.7"/><circle cx="325.38" cy="264.97" r="1.7"/><circle cx="323.59" cy="266.41" r="1.7"/><circle cx="334.36" cy="261.02" r="1.7"/><circle cx="314.61" cy="266.77" r="1.7"/><circle cx="318.56" cy="267.48" r="1.7"/><circle cx="320.36" cy="267.13" r="1.7"/><circle cx="316.77" cy="269.28" r="1.7"/><circle cx="311.03" cy="269.28" r="1.7"/><circle cx="306.72" cy="270" r="1.7"/><circle cx="312.46" cy="270.72" r="1.7"/><circle cx="322.51" cy="268.56" r="1.7"/><circle cx="318.92" cy="270.72" r="1.7"/><circle cx="284.97" cy="307.54" r="1.7"/><circle cx="288.2" cy="301.08" r="1.7"/><circle cx="290.36" cy="299.64" r="1.7"/><circle cx="292.51" cy="301.08" r="1.7"/><circle cx="288.92" cy="303.23" r="1.7"/><circle cx="286.77" cy="304.66" r="1.7"/><circle cx="283.9" cy="297.49" r="1.7"/><circle cx="285.33" cy="296.05" r="1.7"/><circle cx="292" cy="303" r="1.7"/><circle cx="290" cy="306" r="1.7"/><circle cx="297" cy="298" r="1.7"/><circle cx="288" cy="305.5" r="1.7"/><circle cx="298.22" cy="283.72" r="1.7"/><circle cx="298.22" cy="289.76" r="1.7"/><circle cx="300.38" cy="291.05" r="1.7"/><circle cx="290.9" cy="290.62" r="1.7"/><circle cx="295.64" cy="291.48" r="1.7"/><circle cx="294.78" cy="294.07" r="1.7"/><circle cx="296.93" cy="292.78" r="1.7"/><circle cx="299.09" cy="293.21" r="1.7"/><circle cx="293.91" cy="296.22" r="1.7"/><circle cx="291.33" cy="295.36" r="1.7"/><circle cx="287.88" cy="296.22" r="1.7"/><circle cx="285.72" cy="298.38" r="1.7"/><circle cx="289.17" cy="298.81" r="1.7"/><circle cx="291.76" cy="298.38" r="1.7"/><circle cx="296.07" cy="296.22" r="1.7"/><circle cx="298.22" cy="295.79" r="1.7"/><circle cx="301.24" cy="298.81" r="1.7"/><circle cx="284.86" cy="293.21" r="1.7"/><circle cx="286.59" cy="291.91" r="1.7"/><circle cx="307.18" cy="271.95" r="1.7"/><circle cx="306.46" cy="275.18" r="1.7"/><circle cx="309.33" cy="274.46" r="1.7"/><circle cx="312.92" cy="268.72" r="1.7"/><circle cx="314.36" cy="270.87" r="1.7"/><circle cx="315.08" cy="273.74" r="1.7"/><circle cx="315.79" cy="275.18" r="1.7"/><circle cx="320.82" cy="268.72" r="1.7"/><circle cx="312.92" cy="275.9" r="1.7"/><circle cx="310.05" cy="276.61" r="1.7"/><circle cx="308.61" cy="278.77" r="1.7"/><circle cx="304.31" cy="284.51" r="1.7"/><circle cx="307.18" cy="282.36" r="1.7"/><circle cx="308.61" cy="283.43" r="1.7"/><circle cx="307.9" cy="285.23" r="1.7"/><circle cx="305.74" cy="285.95" r="1.7"/><circle cx="316.51" cy="273.03" r="1.7"/><circle cx="262.54" cy="269.96" r="1.7"/><circle cx="262.76" cy="275.95" r="1.7"/><circle cx="262.76" cy="278.68" r="1.7"/><circle cx="323.75" cy="237.79" r="1.7"/><circle cx="315.14" cy="258.84" r="1.7"/><circle cx="353.22" cy="229.63" r="1.7"/><circle cx="362.38" cy="232.9" r="1.7"/><circle cx="352.35" cy="244.34" r="1.7"/><circle cx="341.67" cy="247.61" r="1.7"/><circle cx="346.9" cy="248.49" r="1.7"/><circle cx="339.81" cy="253.06" r="1.7"/><circle cx="352.35" cy="252.3" r="1.7"/><circle cx="336.87" cy="258.51" r="1.7"/></g><path d="M259.1 222.6V321.8H406.6M255.4 321.8H259.1M255.4 309.4H259.1M255.4 297H259.1M255.4 284.6H259.1M255.4 272.2H259.1M255.4 259.8H259.1M255.4 247.4H259.1M255.4 235H259.1M255.4 222.6H259.1M259.1 321.8V325.5M277.54 321.8V325.5M295.98 321.8V325.5M314.41 321.8V325.5M332.85 321.8V325.5M351.29 321.8V325.5M369.73 321.8V325.5M388.16 321.8V325.5M406.6 321.8V325.5" fill="none" stroke="#222" stroke-width="1.1"/><g font-size="7.4" font-weight="bold" fill="#111" stroke="#111" stroke-width="0.5"><text x="253.5" y="324.46" text-anchor="end">0</text><text x="253.5" y="312.06" text-anchor="end">1000</text><text x="253.5" y="299.66" text-anchor="end">2000</text><text x="253.5" y="287.26" text-anchor="end">3000</text><text x="253.5" y="274.86" text-anchor="end">4000</text><text x="253.5" y="262.46" text-anchor="end">5000</text><text x="253.5" y="250.06" text-anchor="end">6000</text><text x="253.5" y="237.66" text-anchor="end">7000</text><text x="253.5" y="225.26" text-anchor="end">8000</text><text x="259.1" y="334.4" text-anchor="middle">0</text><text x="277.54" y="334.4" text-anchor="middle">1000</text><text x="295.98" y="334.4" text-anchor="middle">2000</text><text x="314.41" y="334.4" text-anchor="middle">3000</text><text x="332.85" y="334.4" text-anchor="middle">4000</text><text x="351.29" y="334.4" text-anchor="middle">5000</text><text x="369.73" y="334.4" text-anchor="middle">6000</text><text x="388.16" y="334.4" text-anchor="middle">7000</text><text x="406.6" y="334.4" text-anchor="middle">8000</text></g><text x="332.85" y="346.2" font-size="8.0" font-weight="bold" stroke="#111" stroke-width="0.3" text-anchor="middle">Attending 2</text><text transform="translate(232.7 272.2) rotate(-90)" x="0" y="0" font-size="8.0" font-weight="bold" stroke="#111" stroke-width="0.3" text-anchor="middle">Attending 3</text></g><g><text x="110.67" y="408.3" font-size="10.0" font-weight="bold" stroke="#111" stroke-width="0.25" text-anchor="middle" textLength="101.4" lengthAdjust="spacingAndGlyphs">Trainee 1 vs. Trainee 3</text><text x="45.2" y="429.1" font-size="8.3" fill="#1a1a1a" stroke="#1a1a1a" stroke-width="0.15">y = 0.70x + 509</text><text x="45.2" y="440.8" font-size="8.3" fill="#1a1a1a" stroke="#1a1a1a" stroke-width="0.15">r<tspan font-size="6.14" dy="-4.2">2</tspan><tspan dy="4.2"> = 0.74</tspan></text><polyline points="37,512.9 40.3,511.4 43.59,509.89 46.89,508.39 50.19,506.88 53.49,505.36 56.78,503.84 60.08,502.31 63.38,500.78 66.68,499.24 69.97,497.69 73.27,496.14 76.57,494.58 79.87,493.01 83.16,491.44 86.46,489.86 89.76,488.27 93.06,486.68 96.35,485.09 99.65,483.49 102.95,481.89 106.25,480.28 109.54,478.68 112.84,477.07 116.14,475.46 119.44,473.85 122.73,472.23 126.03,470.62 129.33,469 132.63,467.39 135.92,465.77 139.22,464.15 142.52,462.53 145.81,460.92 149.11,459.3 152.41,457.68 155.71,456.05 159,454.43 162.3,452.81 165.6,451.19 168.9,449.57" fill="none" stroke="#333" stroke-width="0.9" stroke-dasharray="0.9 1.7"/><polyline points="37,515.1 40.3,513.5 43.59,511.9 46.89,510.31 50.19,508.72 53.49,507.13 56.78,505.55 60.08,503.98 63.38,502.41 66.68,500.85 69.97,499.29 73.27,497.75 76.57,496.2 79.87,494.67 83.16,493.14 86.46,491.62 89.76,490.11 93.06,488.59 96.35,487.09 99.65,485.58 102.95,484.08 106.25,482.58 109.54,481.09 112.84,479.6 116.14,478.1 119.44,476.61 122.73,475.13 126.03,473.64 129.33,472.15 132.63,470.67 135.92,469.18 139.22,467.7 142.52,466.22 145.81,464.73 149.11,463.25 152.41,461.77 155.71,460.29 159,458.81 162.3,457.33 165.6,455.85 168.9,454.37" fill="none" stroke="#333" stroke-width="0.9" stroke-dasharray="0.9 1.7"/><line x1="37" y1="514" x2="168.9" y2="451.97" stroke="#000" stroke-width="1.5"/><polygon points="37.44,520 37.44,511.58 38.87,507.75 41.74,505.84 45.57,503.92 48.44,502.01 51.31,499.14 53.22,497.22 56.1,494.35 58.97,493.4 60.88,491.96 63.75,493.4 66.62,491.48 69.49,490.53 72.36,489.57 76,489.09 76,500.1 73.32,502.01 70.45,504.88 66.62,507.75 63.75,509.67 60.88,512.54 58.01,515.41 55.14,516.36 50.35,516.84 47.48,518.28 43.66,520" fill="#0000ff"/><polygon points="40.31,498.18 41.26,494.35 43.66,491.96 47,491.96 48.44,494.35 46.05,498.18 43.18,501.05 40.31,501.53" fill="#0000ff"/><polygon points="66,491.49 68.87,490.05 71.74,488.61 74.61,487.9 77.49,487.9 80.36,488.61 82.51,490.05 83.23,491.49 80.36,493.64 77.49,495.79 75.33,497.95 73.18,499.38 71.03,500.82 68.87,503.69 67.44,507.28 66,508.72" fill="#0000ff"/><g fill="#fff"><circle cx="41.27" cy="517.43" r="1.0"/><circle cx="50.84" cy="508.29" r="1.0"/><circle cx="66.14" cy="503.1" r="1.0"/><circle cx="46.42" cy="509.12" r="1.0"/><circle cx="71.67" cy="499.12" r="1.0"/><circle cx="54.79" cy="501.31" r="1.0"/><circle cx="51.88" cy="504.83" r="1.0"/><circle cx="45.7" cy="508.79" r="1.0"/><circle cx="40.34" cy="516.63" r="1.0"/></g><g fill="#0000ff"><circle cx="45.57" cy="502.49" r="1.7"/><circle cx="62.32" cy="492.44" r="1.7"/><circle cx="49.4" cy="515.89" r="1.7"/><circle cx="59.92" cy="513.01" r="1.7"/><circle cx="94.18" cy="480.96" r="1.7"/><circle cx="99.92" cy="481.44" r="1.7"/><circle cx="105.67" cy="484.78" r="1.7"/><circle cx="105.19" cy="489.57" r="1.7"/><circle cx="114.76" cy="491" r="1.7"/><circle cx="81.74" cy="505.84" r="1.7"/><circle cx="90.35" cy="507.27" r="1.7"/><circle cx="91.31" cy="509.67" r="1.7"/><circle cx="93.7" cy="504.88" r="1.7"/><circle cx="96.1" cy="505.07" r="1.7"/><circle cx="96.57" cy="509.86" r="1.7"/><circle cx="102.79" cy="505.84" r="1.7"/><circle cx="104.71" cy="507.27" r="1.7"/><circle cx="106.14" cy="507.75" r="1.7"/><circle cx="107.58" cy="503.92" r="1.7"/><circle cx="109.97" cy="505.07" r="1.7"/><circle cx="109.97" cy="480.48" r="1.7"/><circle cx="107.58" cy="480.96" r="1.7"/><circle cx="75.33" cy="480.72" r="1.7"/><circle cx="77.49" cy="481.44" r="1.7"/><circle cx="78.92" cy="482.87" r="1.7"/><circle cx="76.77" cy="483.59" r="1.7"/><circle cx="73.9" cy="485.03" r="1.7"/><circle cx="78.56" cy="485.38" r="1.7"/><circle cx="82.87" cy="483.95" r="1.7"/><circle cx="83.23" cy="481.08" r="1.7"/><circle cx="85.38" cy="480.72" r="1.7"/><circle cx="87.54" cy="481.44" r="1.7"/><circle cx="89.69" cy="482.15" r="1.7"/><circle cx="87.54" cy="486.46" r="1.7"/><circle cx="89.69" cy="486.46" r="1.7"/><circle cx="91.13" cy="487.9" r="1.7"/><circle cx="85.38" cy="489.33" r="1.7"/><circle cx="86.82" cy="490.77" r="1.7"/><circle cx="88.97" cy="491.49" r="1.7"/><circle cx="90.41" cy="492.92" r="1.7"/><circle cx="93.28" cy="490.05" r="1.7"/><circle cx="95.43" cy="487.9" r="1.7"/><circle cx="73.18" cy="501.54" r="1.7"/><circle cx="68.15" cy="505.13" r="1.7"/><circle cx="86.1" cy="469.9" r="1.7"/><circle cx="82.51" cy="472.05" r="1.7"/><circle cx="86.82" cy="473.13" r="1.7"/><circle cx="86.1" cy="476.72" r="1.7"/><circle cx="93.64" cy="476.36" r="1.7"/><circle cx="95.43" cy="469.54" r="1.7"/><circle cx="81.79" cy="478.15" r="1.7"/><circle cx="87.54" cy="479.95" r="1.7"/><circle cx="88.97" cy="480.66" r="1.7"/><circle cx="82.51" cy="487.48" r="1.7"/><circle cx="70.31" cy="490.72" r="1.7"/><circle cx="73.18" cy="489.28" r="1.7"/><circle cx="76.77" cy="488.56" r="1.7"/><circle cx="79.64" cy="490" r="1.7"/><circle cx="121.74" cy="462.87" r="1.7"/><circle cx="117.43" cy="465.74" r="1.7"/><circle cx="116.72" cy="468.61" r="1.7"/><circle cx="117.43" cy="471.48" r="1.7"/><circle cx="116.72" cy="474.35" r="1.7"/><circle cx="121.02" cy="467.89" r="1.7"/><circle cx="126.76" cy="471.48" r="1.7"/><circle cx="128.91" cy="470.76" r="1.7"/><circle cx="141.11" cy="462.87" r="1.7"/><circle cx="142.26" cy="475.06" r="1.7"/><circle cx="150.43" cy="475.49" r="1.7"/><circle cx="151.87" cy="475.06" r="1.7"/><circle cx="168.37" cy="473.63" r="1.7"/><circle cx="124.61" cy="480.52" r="1.7"/><circle cx="129.92" cy="477.93" r="1.7"/><circle cx="145.7" cy="480.52" r="1.7"/><circle cx="155.74" cy="484.68" r="1.7"/><circle cx="120.3" cy="489.7" r="1.7"/><circle cx="112.36" cy="462.97" r="1.7"/><circle cx="109.01" cy="467.75" r="1.7"/><circle cx="110.45" cy="466.79" r="1.7"/><circle cx="114.76" cy="468.71" r="1.7"/><circle cx="115.23" cy="471.58" r="1.7"/><circle cx="96.57" cy="472.54" r="1.7"/><circle cx="101.84" cy="471.58" r="1.7"/><circle cx="103.75" cy="472.06" r="1.7"/><circle cx="105.67" cy="472.54" r="1.7"/><circle cx="107.58" cy="473.01" r="1.7"/><circle cx="109.49" cy="473.49" r="1.7"/><circle cx="111.89" cy="473.01" r="1.7"/><circle cx="98.97" cy="475.89" r="1.7"/><circle cx="100.4" cy="476.36" r="1.7"/><circle cx="90.35" cy="479.23" r="1.7"/><circle cx="77.91" cy="479.23" r="1.7"/><circle cx="108.54" cy="479.23" r="1.7"/><circle cx="113.8" cy="477.8" r="1.7"/><circle cx="158.76" cy="448.14" r="1.7"/><circle cx="150.39" cy="454" r="1.7"/><circle cx="139.5" cy="456.35" r="1.7"/></g><path d="M37 421.3V520.3H184.35M33.3 520.3H37M33.3 507.92H37M33.3 495.55H37M33.3 483.17H37M33.3 470.8H37M33.3 458.42H37M33.3 446.05H37M33.3 433.68H37M33.3 421.3H37M37 520.3V524M55.42 520.3V524M73.84 520.3V524M92.26 520.3V524M110.67 520.3V524M129.09 520.3V524M147.51 520.3V524M165.93 520.3V524M184.35 520.3V524" fill="none" stroke="#222" stroke-width="1.1"/><g font-size="7.4" font-weight="bold" fill="#111" stroke="#111" stroke-width="0.5"><text x="31.4" y="522.96" text-anchor="end">0</text><text x="31.4" y="510.59" text-anchor="end">1000</text><text x="31.4" y="498.21" text-anchor="end">2000</text><text x="31.4" y="485.84" text-anchor="end">3000</text><text x="31.4" y="473.46" text-anchor="end">4000</text><text x="31.4" y="461.09" text-anchor="end">5000</text><text x="31.4" y="448.71" text-anchor="end">6000</text><text x="31.4" y="436.34" text-anchor="end">7000</text><text x="31.4" y="423.96" text-anchor="end">8000</text><text x="37" y="532.9" text-anchor="middle">0</text><text x="55.42" y="532.9" text-anchor="middle">1000</text><text x="73.84" y="532.9" text-anchor="middle">2000</text><text x="92.26" y="532.9" text-anchor="middle">3000</text><text x="110.67" y="532.9" text-anchor="middle">4000</text><text x="129.09" y="532.9" text-anchor="middle">5000</text><text x="147.51" y="532.9" text-anchor="middle">6000</text><text x="165.93" y="532.9" text-anchor="middle">7000</text><text x="184.35" y="532.9" text-anchor="middle">8000</text></g><text x="110.67" y="544.7" font-size="8.0" font-weight="bold" stroke="#111" stroke-width="0.3" text-anchor="middle">Trainee 1</text><text transform="translate(10.6 470.8) rotate(-90)" x="0" y="0" font-size="8.0" font-weight="bold" stroke="#111" stroke-width="0.3" text-anchor="middle">Trainee 3</text></g><g><text x="332.85" y="408.3" font-size="10.0" font-weight="bold" stroke="#111" stroke-width="0.25" text-anchor="middle" textLength="119.8" lengthAdjust="spacingAndGlyphs">Attending 1 vs. Attending 3</text><text x="267.3" y="429.1" font-size="8.3" fill="#1a1a1a" stroke="#1a1a1a" stroke-width="0.15">y = 0.99x + 15</text><text x="267.3" y="440.8" font-size="8.3" fill="#1a1a1a" stroke="#1a1a1a" stroke-width="0.15">r<tspan font-size="6.14" dy="-4.2">2</tspan><tspan dy="4.2"> = 0.82</tspan></text><polyline points="259.1,519.2 262.79,516.78 266.48,514.36 270.16,511.93 273.85,509.5 277.54,507.06 281.23,504.61 284.91,502.16 288.6,499.71 292.29,497.24 295.98,494.78 299.66,492.31 303.35,489.83 307.04,487.35 310.73,484.86 314.41,482.38 318.1,479.88 321.79,477.39 325.48,474.89 329.16,472.4 332.85,469.9 336.54,467.39 340.23,464.89 343.91,462.39 347.6,459.88 351.29,457.37 354.98,454.87 358.66,452.36 362.35,449.85 366.04,447.34 369.73,444.83 373.41,442.32 377.1,439.81 380.79,437.3 384.48,434.78 388.16,432.27 391.85,429.76 395.54,427.25 399.23,424.73 402.91,422.22 406.6,419.7" fill="none" stroke="#333" stroke-width="0.9" stroke-dasharray="0.9 1.7"/><polyline points="259.1,521.03 262.79,518.55 266.48,516.07 270.16,513.6 273.85,511.13 277.54,508.67 281.23,506.21 284.91,503.76 288.6,501.32 292.29,498.88 295.98,496.45 299.66,494.02 303.35,491.59 307.04,489.17 310.73,486.76 314.41,484.35 318.1,481.94 321.79,479.53 325.48,477.12 329.16,474.72 332.85,472.32 336.54,469.92 340.23,467.53 343.91,465.13 347.6,462.74 351.29,460.34 354.98,457.95 358.66,455.56 362.35,453.17 366.04,450.77 369.73,448.38 373.41,445.99 377.1,443.61 380.79,441.22 384.48,438.83 388.16,436.44 391.85,434.05 395.54,431.67 399.23,429.28 402.91,426.89 406.6,424.5" fill="none" stroke="#333" stroke-width="0.9" stroke-dasharray="0.9 1.7"/><line x1="259.1" y1="520.11" x2="406.6" y2="422.1" stroke="#000" stroke-width="1.5"/><polygon points="259.35,520.1 259.83,515.41 261.74,511.58 264.61,509.67 267.48,507.75 268.44,504.88 270.35,502.01 273.22,499.14 271.31,495.31 275.14,493.88 278.97,492.44 280.88,494.35 283.75,493.4 286.62,494.35 289.49,496.27 292.36,494.35 296,492.44 296,511.58 293.32,512.54 290.45,514.45 287.58,515.41 284.71,516.84 280.88,518.28 277.05,519.23 273.22,520.1" fill="#0000ff"/><polygon points="296,490.36 298.87,489.64 301.03,489.64 302.46,491.79 303.18,494.66 302.46,496.82 300.31,498.25 298.87,500.41 296,501.13" fill="#0000ff"/><g fill="#fff"><circle cx="277" cy="510.17" r="1.0"/><circle cx="286.45" cy="500.46" r="1.0"/><circle cx="282.95" cy="497.96" r="1.0"/><circle cx="274.35" cy="516.8" r="1.0"/><circle cx="270.92" cy="510.49" r="1.0"/><circle cx="279.87" cy="513.94" r="1.0"/><circle cx="285.31" cy="509.87" r="1.0"/><circle cx="287.92" cy="509.25" r="1.0"/><circle cx="278.39" cy="508.37" r="1.0"/><circle cx="284.78" cy="505.08" r="1.0"/><circle cx="279.48" cy="503.89" r="1.0"/><circle cx="299.03" cy="492.34" r="1.0"/></g><polygon points="276.57,498.18 279.92,497.03 283.75,497.7 286.62,499.14 284.71,501.53 279.92,501.53 277.05,500.57" fill="#fff"/><polygon points="278.01,516.84 280.88,515.6 287.58,516.17 288.54,517.8 284.71,519.43 278.97,519.04" fill="#fff"/><polygon points="287.58,507.27 289.97,506.32 290.93,508.23 289.01,509.19" fill="#fff"/><g fill="#0000ff"><circle cx="286.62" cy="486.22" r="1.7"/><circle cx="290.45" cy="481.91" r="1.7"/><circle cx="290.93" cy="483.83" r="1.7"/><circle cx="291.41" cy="485.74" r="1.7"/><circle cx="291.89" cy="491.29" r="1.7"/><circle cx="267.48" cy="502.01" r="1.7"/><circle cx="279.92" cy="491.96" r="1.7"/><circle cx="291.41" cy="516.84" r="1.7"/><circle cx="294.28" cy="515.89" r="1.7"/><circle cx="278.97" cy="496.27" r="1.7"/><circle cx="283.75" cy="494.35" r="1.7"/><circle cx="287.58" cy="502.97" r="1.7"/><circle cx="280.88" cy="502.97" r="1.7"/><circle cx="284.71" cy="502.97" r="1.7"/><circle cx="289.49" cy="504.88" r="1.7"/><circle cx="291.41" cy="509.67" r="1.7"/><circle cx="279.92" cy="514.45" r="1.7"/><circle cx="277.05" cy="515.41" r="1.7"/><circle cx="314.18" cy="471.44" r="1.7"/><circle cx="309.88" cy="476.51" r="1.7"/><circle cx="297.91" cy="479.57" r="1.7"/><circle cx="320.4" cy="474.31" r="1.7"/><circle cx="318.97" cy="494.4" r="1.7"/><circle cx="320.88" cy="497.27" r="1.7"/><circle cx="312.75" cy="492.97" r="1.7"/><circle cx="311.79" cy="495.84" r="1.7"/><circle cx="313.22" cy="498.71" r="1.7"/><circle cx="310.35" cy="498.71" r="1.7"/><circle cx="303.18" cy="503.01" r="1.7"/><circle cx="302.7" cy="498.71" r="1.7"/><circle cx="299.35" cy="513.06" r="1.7"/><circle cx="300.78" cy="514.5" r="1.7"/><circle cx="312.15" cy="479.59" r="1.7"/><circle cx="306.77" cy="480.31" r="1.7"/><circle cx="308.56" cy="480.31" r="1.7"/><circle cx="321.13" cy="478.15" r="1.7"/><circle cx="301.38" cy="484.26" r="1.7"/><circle cx="308.92" cy="498.97" r="1.7"/><circle cx="298.15" cy="503.28" r="1.7"/><circle cx="296.72" cy="499.69" r="1.7"/><circle cx="322.56" cy="486.77" r="1.7"/><circle cx="322.96" cy="473.15" r="1.7"/><circle cx="306.31" cy="481.76" r="1.7"/><circle cx="308.61" cy="482.62" r="1.7"/><circle cx="310.33" cy="483.48" r="1.7"/><circle cx="311.48" cy="485.2" r="1.7"/><circle cx="313.78" cy="484.06" r="1.7"/><circle cx="315.5" cy="485.78" r="1.7"/><circle cx="317.22" cy="484.63" r="1.7"/><circle cx="316.65" cy="486.93" r="1.7"/><circle cx="318.94" cy="482.91" r="1.7"/><circle cx="320.67" cy="480.61" r="1.7"/><circle cx="321.81" cy="482.33" r="1.7"/><circle cx="320.67" cy="486.35" r="1.7"/><circle cx="302.87" cy="485.2" r="1.7"/><circle cx="303.44" cy="486.93" r="1.7"/><circle cx="305.17" cy="486.35" r="1.7"/><circle cx="308.04" cy="486.93" r="1.7"/><circle cx="309.76" cy="488.65" r="1.7"/><circle cx="311.48" cy="488.07" r="1.7"/><circle cx="301.72" cy="489.22" r="1.7"/><circle cx="303.44" cy="490.37" r="1.7"/><circle cx="305.17" cy="491.52" r="1.7"/><circle cx="306.89" cy="490.94" r="1.7"/><circle cx="305.74" cy="489.22" r="1.7"/><circle cx="301.15" cy="492.09" r="1.7"/><circle cx="303.44" cy="493.24" r="1.7"/><circle cx="306.89" cy="493.24" r="1.7"/><circle cx="311.48" cy="493.81" r="1.7"/><circle cx="320.67" cy="457.44" r="1.7"/><circle cx="327.49" cy="460.31" r="1.7"/><circle cx="331.08" cy="461.74" r="1.7"/><circle cx="331.43" cy="463.18" r="1.7"/><circle cx="335.02" cy="456.72" r="1.7"/><circle cx="336.82" cy="459.59" r="1.7"/><circle cx="339.69" cy="456.72" r="1.7"/><circle cx="341.84" cy="459.23" r="1.7"/><circle cx="343.28" cy="457.44" r="1.7"/><circle cx="326.41" cy="464.97" r="1.7"/><circle cx="330.36" cy="466.05" r="1.7"/><circle cx="332.51" cy="465.33" r="1.7"/><circle cx="335.38" cy="464.61" r="1.7"/><circle cx="336.1" cy="466.77" r="1.7"/><circle cx="338.25" cy="466.77" r="1.7"/><circle cx="323.18" cy="468.92" r="1.7"/><circle cx="324.61" cy="468.56" r="1.7"/><circle cx="325.33" cy="470.36" r="1.7"/><circle cx="326.77" cy="471.43" r="1.7"/><circle cx="328.92" cy="472.51" r="1.7"/><circle cx="331.08" cy="471.43" r="1.7"/><circle cx="333.23" cy="469.28" r="1.7"/><circle cx="325.33" cy="473.95" r="1.7"/><circle cx="336.1" cy="474.31" r="1.7"/><circle cx="343.28" cy="470.72" r="1.7"/><circle cx="318.87" cy="478.25" r="1.7"/><circle cx="325.33" cy="479.69" r="1.7"/><circle cx="326.77" cy="481.84" r="1.7"/><circle cx="324.61" cy="483.28" r="1.7"/><circle cx="317.44" cy="481.84" r="1.7"/><circle cx="368.15" cy="431.31" r="1.7"/><circle cx="349.08" cy="436.32" r="1.7"/><circle cx="351.59" cy="442.75" r="1.7"/><circle cx="355.29" cy="444.71" r="1.7"/><circle cx="365.97" cy="446.13" r="1.7"/><circle cx="372.84" cy="447.22" r="1.7"/><circle cx="368.15" cy="450.71" r="1.7"/><circle cx="374.37" cy="451.8" r="1.7"/><circle cx="351.04" cy="450.38" r="1.7"/><circle cx="359.22" cy="454.2" r="1.7"/><circle cx="338.18" cy="454.52" r="1.7"/><circle cx="343.63" cy="455.61" r="1.7"/><circle cx="347.44" cy="459.65" r="1.7"/><circle cx="336.54" cy="468.15" r="1.7"/><circle cx="357.25" cy="467.93" r="1.7"/><circle cx="366.52" cy="477.74" r="1.7"/><circle cx="333.32" cy="466.84" r="1.7"/><circle cx="334.76" cy="468.76" r="1.7"/><circle cx="285.19" cy="468.52" r="1.7"/><circle cx="292.17" cy="468.71" r="1.7"/><circle cx="282.32" cy="473.97" r="1.7"/><circle cx="284.71" cy="474.93" r="1.7"/><circle cx="286.14" cy="476.84" r="1.7"/><circle cx="287.1" cy="478.28" r="1.7"/><circle cx="288.54" cy="478.76" r="1.7"/></g><path d="M259.1 421.3V520.3H406.6M255.4 520.3H259.1M255.4 507.92H259.1M255.4 495.55H259.1M255.4 483.17H259.1M255.4 470.8H259.1M255.4 458.42H259.1M255.4 446.05H259.1M255.4 433.68H259.1M255.4 421.3H259.1M259.1 520.3V524M277.54 520.3V524M295.98 520.3V524M314.41 520.3V524M332.85 520.3V524M351.29 520.3V524M369.73 520.3V524M388.16 520.3V524M406.6 520.3V524" fill="none" stroke="#222" stroke-width="1.1"/><g font-size="7.4" font-weight="bold" fill="#111" stroke="#111" stroke-width="0.5"><text x="253.5" y="522.96" text-anchor="end">0</text><text x="253.5" y="510.59" text-anchor="end">1000</text><text x="253.5" y="498.21" text-anchor="end">2000</text><text x="253.5" y="485.84" text-anchor="end">3000</text><text x="253.5" y="473.46" text-anchor="end">4000</text><text x="253.5" y="461.09" text-anchor="end">5000</text><text x="253.5" y="448.71" text-anchor="end">6000</text><text x="253.5" y="436.34" text-anchor="end">7000</text><text x="253.5" y="423.96" text-anchor="end">8000</text><text x="259.1" y="532.9" text-anchor="middle">0</text><text x="277.54" y="532.9" text-anchor="middle">1000</text><text x="295.98" y="532.9" text-anchor="middle">2000</text><text x="314.41" y="532.9" text-anchor="middle">3000</text><text x="332.85" y="532.9" text-anchor="middle">4000</text><text x="351.29" y="532.9" text-anchor="middle">5000</text><text x="369.73" y="532.9" text-anchor="middle">6000</text><text x="388.16" y="532.9" text-anchor="middle">7000</text><text x="406.6" y="532.9" text-anchor="middle">8000</text></g><text x="332.85" y="544.7" font-size="8.0" font-weight="bold" stroke="#111" stroke-width="0.3" text-anchor="middle">Attending 1</text><text transform="translate(232.7 470.8) rotate(-90)" x="0" y="0" font-size="8.0" font-weight="bold" stroke="#111" stroke-width="0.3" text-anchor="middle">Attending 3</text></g>
</svg></body></html>
